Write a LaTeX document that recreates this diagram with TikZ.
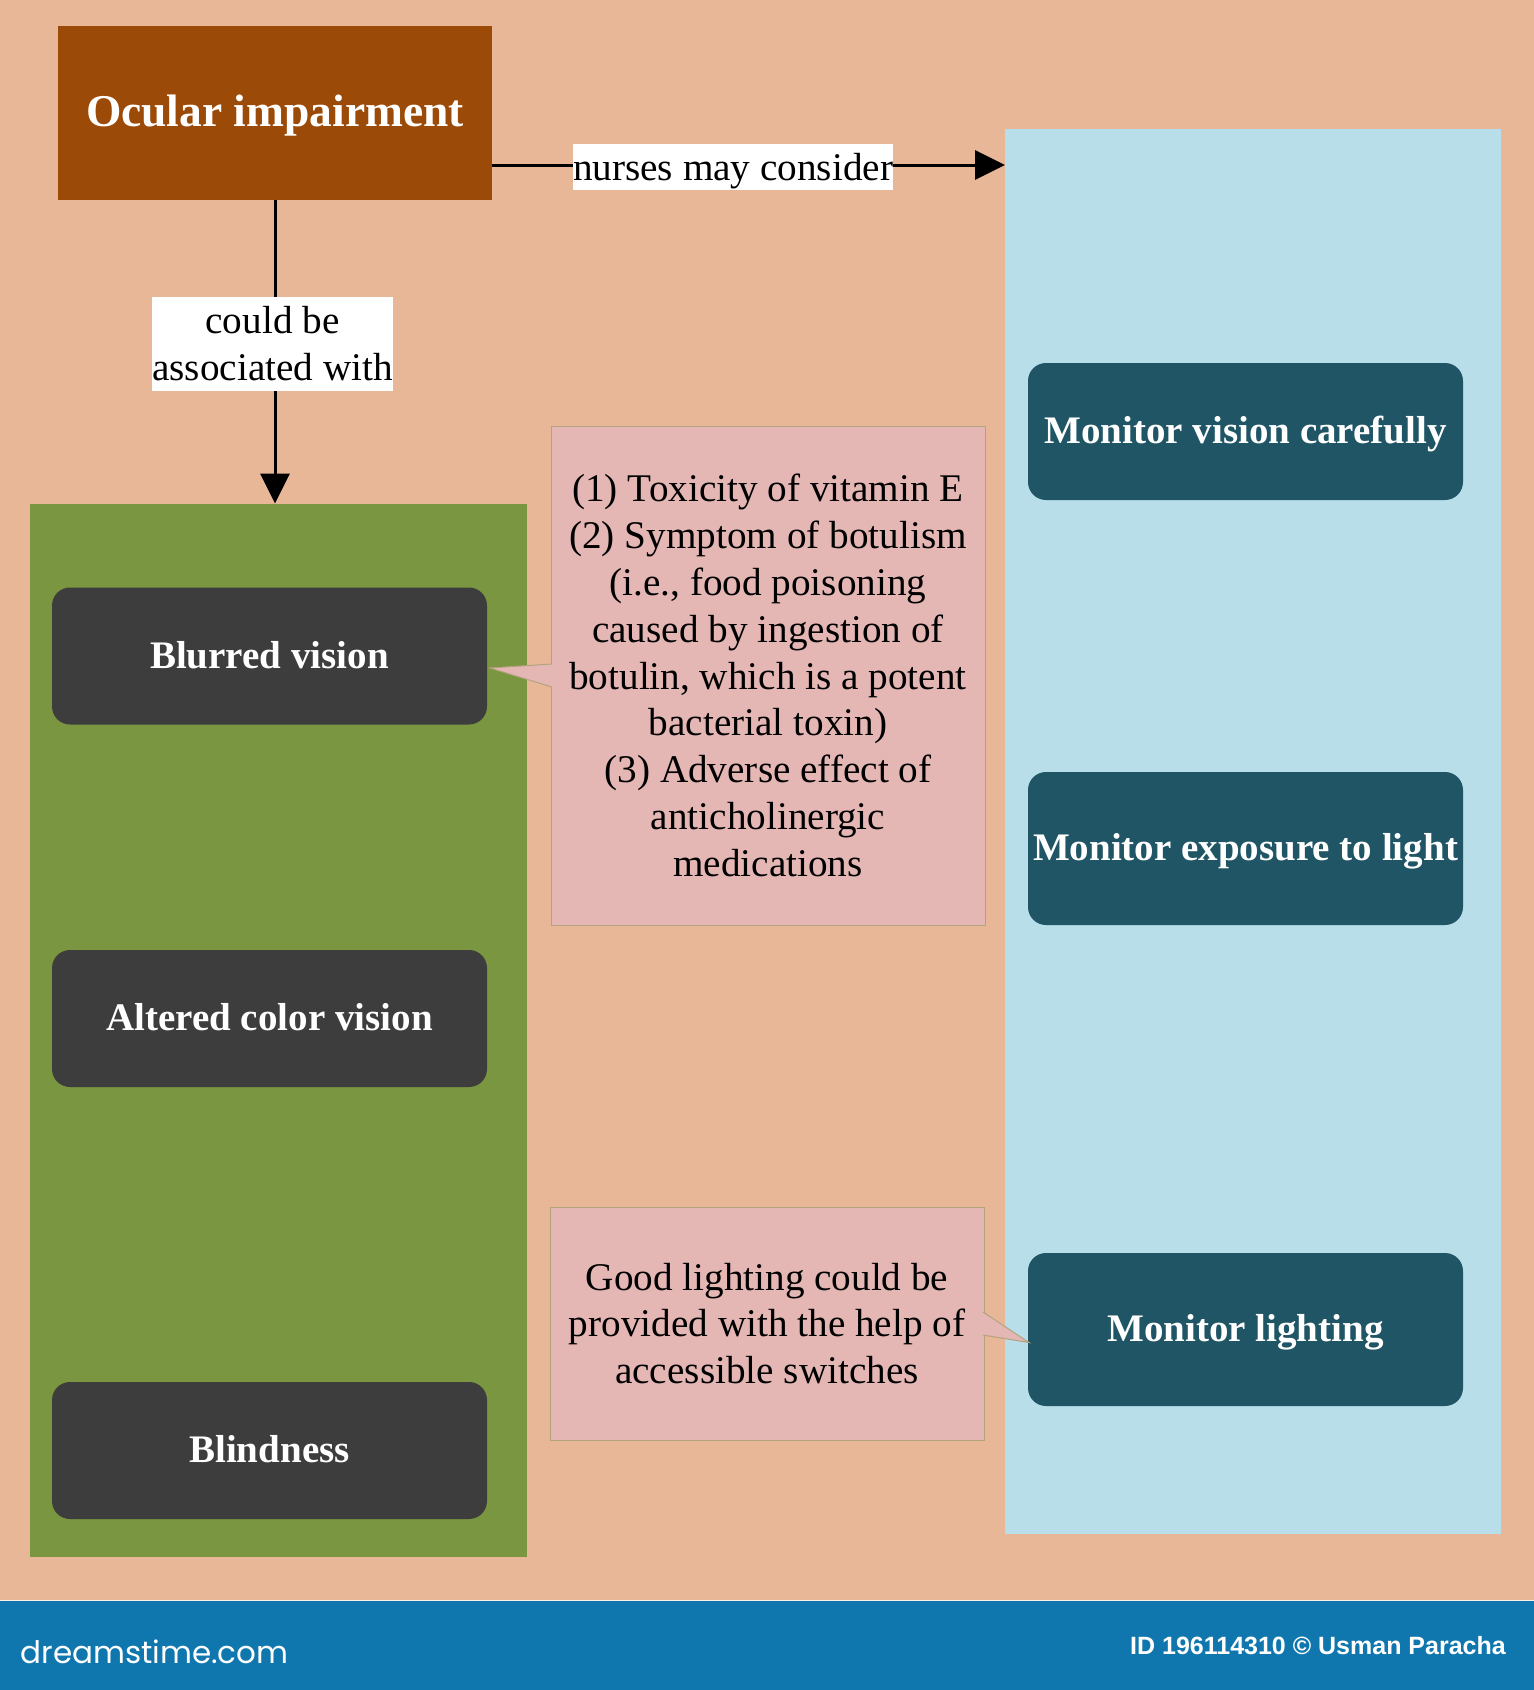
\documentclass[tikz,border=0pt]{standalone}
\usepackage{fontspec}
\setmainfont{Liberation Serif}
\newfontfamily\footfont{Liberation Sans}
\newfontfamily\logofont{Poppins}
\usetikzlibrary{arrows.meta,positioning,calc}
\definecolor{sand}{HTML}{E8B797}
\definecolor{rust}{HTML}{9C4A07}
\definecolor{moss}{HTML}{7A9640}
\definecolor{coal}{HTML}{3D3D3D}
\definecolor{teal}{HTML}{1F5565}
\definecolor{sky}{HTML}{B8DEE9}
\definecolor{blush}{HTML}{E4B7B5}
\definecolor{blushd}{HTML}{B3A37E}
\definecolor{band}{HTML}{0F77AE}
\begin{document}
\begin{tikzpicture}[x=1pt, y=-1pt,
      panel/.style={anchor=north west, inner sep=0pt, outer sep=0pt},
      darkbox/.style={fill=coal, rounded corners=18pt, inner sep=0pt, outer sep=0pt, minimum width=435pt, minimum height=137pt, text height=27pt, text depth=3pt, text=white, font=\fontsize{39}{46}\selectfont\bfseries},
      tealbox/.style={darkbox, fill=teal},
      note/.style={draw=blushd, line width=1pt, fill=blush, inner sep=0pt, outer sep=0pt, minimum width=434pt, align=center, font=\fontsize{39.2}{46.8}\selectfont},
      pointer/.style={draw=blushd, line width=1pt, fill=blush},
      lbl/.style={fill=white, inner sep=0pt, align=center, font=\fontsize{39.2}{46.8}\selectfont},
      arr/.style={-{Triangle[length=30pt, width=29pt]}, line width=3pt, color=black}]
    \useasboundingbox (0,0) rectangle (1534,1690);
    \fill[sand] (0,0) rectangle (1534,1690);
    \node[panel, fill=sky, minimum width=496pt, minimum height=1405pt] (sidepanel) at (1005,129) {};
    \node[panel, fill=moss, minimum width=497pt, minimum height=1053.5pt] (signs) at (30,503.5) {};
    \node[panel, fill=rust, minimum width=434pt, minimum height=174pt, text height=31pt, text depth=4pt, text=white, font=\fontsize{45.5}{50}\selectfont\bfseries] (ocular) at (58,26) {Ocular impairment};
    \node[darkbox] (blurred) at (269.5,656) {Blurred vision};
    \node[darkbox, below=225.5pt of blurred] (altered) {Altered color vision};
    \node[darkbox, below=295pt of altered] (blindness) {Blindness};
    \node[tealbox] (vision) at (1245.5,431.5) {Monitor vision carefully};
    \node[tealbox, minimum height=153pt, below=272pt of vision] (exposure) {Monitor exposure to light};
    \node[tealbox, minimum height=153pt, below=328pt of exposure] (lighting) {Monitor lighting};
    \node[note, minimum height=499pt] (causes) at (768,675.5) {(1) Toxicity of vitamin E\\ (2) Symptom of botulism\\ (i.e., food poisoning\\ caused by ingestion of\\ botulin, which is a potent\\ bacterial toxin)\\ (3) Adverse effect of\\ anticholinergic\\ medications};
    \node[note, minimum height=233pt] (switches) at (767,1323.5) {Good lighting could be\\ provided with the help of\\ accessible switches};
    \coordinate (tipa) at ($(blurred.east)+(3,12)$);
    \coordinate (tipb) at ($(lighting.west)+(1,13)$);
    \draw[pointer] ($(causes.west)+(1,-11.5)$) -- (tipa) -- ($(causes.west)+(1,11.5)$);
    \draw[pointer] ($(switches.east)+(-1,-11.5)$) -- (tipb) -- ($(switches.east)+(-1,11.5)$);
    \coordinate (out) at ($(ocular.south east)+(0,-35)$);
    \draw[arr] (out) -- node[lbl, pos=0.47, yshift=-2pt, minimum width=319pt, minimum height=46pt, text height=28pt, text depth=1pt] (consider) {nurses may consider} (out -| sidepanel.west);
    \draw[arr] (ocular.south) -- node[lbl, pos=0.473, xshift=-2.5pt, minimum width=239pt, minimum height=94pt] (associated) {could be\\ associated with} (ocular.south |- signs.north);
    \node[panel, fill=band, minimum width=1534pt, minimum height=90pt] (footer) at (0,1600) {};
    \draw[white!80!sand, line width=1pt] (footer.north west) -- (footer.north east);
    \node[anchor=west, text=white, font=\logofont\fontsize{31}{36}\selectfont] (logo) at (17,1652) {dreamstime.com};
    \node[anchor=east, inner sep=0pt, text=white, font=\footfont\fontsize{25}{28}\selectfont\bfseries] (credit) at (1506,1646) {ID 196114310 © Usman Paracha};
  \end{tikzpicture}
\end{document}
